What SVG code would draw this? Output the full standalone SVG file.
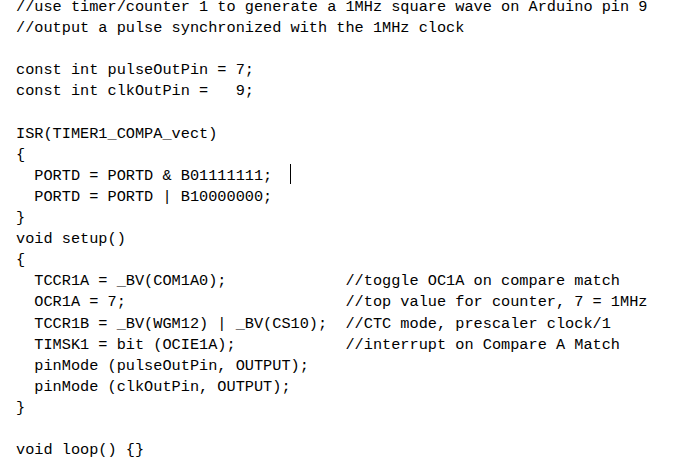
<svg xmlns="http://www.w3.org/2000/svg" width="675" height="458" viewBox="0 0 675 458">
<style>text{font-family:"Liberation Mono","DejaVu Sans Mono",monospace;font-size:15.25px;fill:#000;white-space:pre}</style>
<rect width="675" height="458" fill="#fff"/>
<g id="code" xml:space="preserve">
<text x="16" y="11">//use timer/counter 1 to generate a 1MHz square wave on Arduino pin 9</text>
<text x="16" y="32.1">//output a pulse synchronized with the 1MHz clock</text>
<text x="16" y="74.3">const int pulseOutPin = 7;</text>
<text x="16" y="95.4">const int clkOutPin =   9;</text>
<text x="16" y="137.6">ISR(TIMER1_COMPA_vect)</text>
<text x="16" y="158.7">{</text>
<text x="16" y="179.8">  PORTD = PORTD &amp; B01111111;</text>
<text x="16" y="200.9">  PORTD = PORTD | B10000000;</text>
<text x="16" y="222">}</text>
<text x="16" y="243.1">void setup()</text>
<text x="16" y="264.2">{</text>
<text x="16" y="285.3">  TCCR1A = _BV(COM1A0);             //toggle OC1A on compare match</text>
<text x="16" y="306.4">  OCR1A = 7;                        //top value for counter, 7 = 1MHz</text>
<text x="16" y="327.5">  TCCR1B = _BV(WGM12) | _BV(CS10);  //CTC mode, prescaler clock/1</text>
<text x="16" y="348.6">  TIMSK1 = bit (OCIE1A);            //interrupt on Compare A Match</text>
<text x="16" y="369.7">  pinMode (pulseOutPin, OUTPUT);</text>
<text x="16" y="390.8">  pinMode (clkOutPin, OUTPUT);</text>
<text x="16" y="411.9">}</text>
<text x="16" y="454">void loop() {}</text>
</g>
<line x1="290.5" y1="164" x2="290.5" y2="184" stroke="#000" stroke-width="1"/>
</svg>
